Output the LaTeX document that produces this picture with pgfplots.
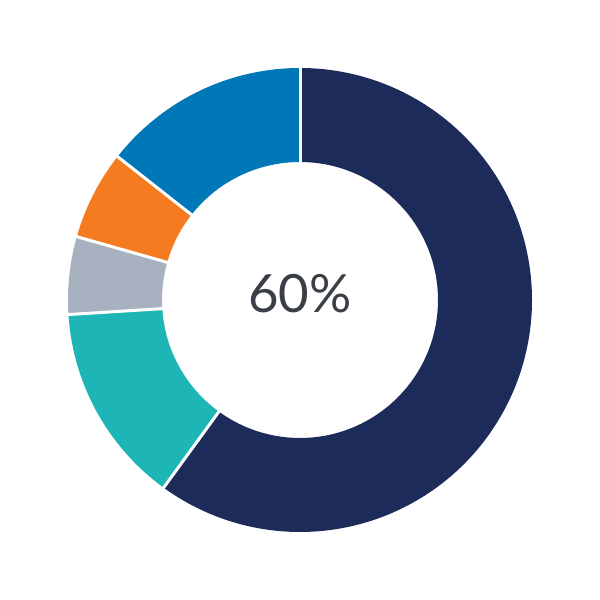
\documentclass[border=0pt]{standalone}
\usepackage{pgfplots}
\pgfplotsset{compat=1.18}
\usepackage{fontspec}
\setmainfont{Lato}
\definecolor{cnavy}{HTML}{1C2B5A}
\definecolor{cteal}{HTML}{1DB5B5}
\definecolor{cgray}{HTML}{A8B1BF}
\definecolor{corange}{HTML}{F47B20}
\definecolor{cblue}{HTML}{0077B6}
\definecolor{ctext}{HTML}{3A3E47}
% shares (percent), clockwise from top: navy 60, teal 14, gray 5.4, orange 6.2, blue 14.4
% polar angles (deg, ccw from +x): 90, -126, -176.4, -195.84, -218.16, -270
\begin{document}
\begin{tikzpicture}
\begin{axis}[width=6cm,height=6cm,scale only axis,hide axis,
  xmin=-300,xmax=300,ymin=-300,ymax=300,clip=false]
\addplot[draw=none] coordinates {(-300,-300) (300,300)};
\addplot[cnavy, line width=0.94cm, data cs=polar, domain=-126:90, samples=150] ({x},{185});
\addplot[cteal, line width=0.94cm, data cs=polar, domain=-176.4:-126, samples=50] ({x},{185});
\addplot[cgray, line width=0.94cm, data cs=polar, domain=-195.84:-176.4, samples=30] ({x},{185});
\addplot[corange, line width=0.94cm, data cs=polar, domain=-218.16:-195.84, samples=30] ({x},{185});
\addplot[cblue, line width=0.94cm, data cs=polar, domain=-270:-218.16, samples=50] ({x},{185});
\addplot[white, line width=0.03cm, data cs=polar] coordinates {(90,135) (90,235)};
\addplot[white, line width=0.03cm, data cs=polar] coordinates {(-126,135) (-126,235)};
\addplot[white, line width=0.03cm, data cs=polar] coordinates {(-176.4,135) (-176.4,235)};
\addplot[white, line width=0.03cm, data cs=polar] coordinates {(-195.84,135) (-195.84,235)};
\addplot[white, line width=0.03cm, data cs=polar] coordinates {(-218.16,135) (-218.16,235)};
\node[font=\fontsize{15}{18}\selectfont, text=ctext, anchor=center] at (axis cs:0,6) {60\%};
\end{axis}
\end{tikzpicture}
\end{document}
